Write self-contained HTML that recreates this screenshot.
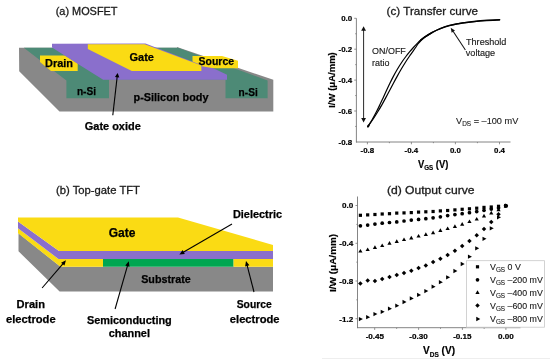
<!DOCTYPE html>
<html><head><meta charset="utf-8"><style>
html,body{margin:0;padding:0;background:#fff;width:550px;height:361px;overflow:hidden}
svg{display:block}
text{font-family:"Liberation Sans",Arial,sans-serif}
</style></head><body>
<svg width="550" height="361" viewBox="0 0 550 361">
<polygon points="19.00,47.70 177.00,47.70 177.00,47.00 273.30,79.80 273.30,111.40 59.50,111.40 19.20,71.20" fill="#888888"/>
<polygon points="23.80,47.80 178.00,47.80 267.60,80.40 267.60,98.20 225.50,98.20 225.50,79.40 109.00,79.40 109.00,98.20 66.40,98.20 66.40,80.40" fill="#4d8a76"/>
<polygon points="40.00,55.50 65.00,55.50 77.70,63.50 77.70,71.00 51.00,71.00 40.00,62.00" fill="#fadb14"/>
<polygon points="192.50,55.90 222.00,55.90 238.00,60.80 238.00,68.30 200.00,68.30 192.50,63.00" fill="#fadb14"/>
<polygon points="52.00,43.70 145.50,43.50 202.00,65.30 202.00,66.20 213.40,68.30 227.00,74.80 227.00,79.80 103.20,79.80 80.00,65.30 52.00,47.50" fill="#8a6fcc"/>
<polygon points="87.80,44.30 144.70,44.30 201.40,65.60 201.40,71.05 131.80,71.05 87.80,48.90" fill="#fadb14"/>
<line x1="112.80" y1="115.30" x2="117.18" y2="76.68" stroke="#000" stroke-width="1.10"/><polygon points="117.60,73.00 119.31,77.42 114.94,76.93" fill="#000"/>
<polygon points="18.50,233.20 60.50,266.80 273.00,266.80 273.00,291.60 59.60,291.60 18.50,251.30" fill="#888888"/>
<polygon points="18.00,228.20 58.50,259.00 103.00,259.00 103.00,266.80 60.50,266.80 18.00,233.20" fill="#fadb14"/>
<polygon points="103.00,259.00 233.60,259.00 233.60,266.80 103.00,266.80" fill="#00a651"/>
<polygon points="233.60,259.00 273.00,259.00 273.00,266.80 233.60,266.80" fill="#fadb14"/>
<polygon points="18.00,221.60 59.00,251.00 273.00,251.00 273.00,259.00 58.50,259.00 18.00,228.20" fill="#8a6fcc"/>
<polygon points="18.00,217.40 178.00,217.40 273.00,245.00 273.00,251.00 59.00,251.00 18.00,221.60" fill="#fadb14"/>
<line x1="232.00" y1="224.00" x2="183.29" y2="252.24" stroke="#000" stroke-width="1.10"/><polygon points="179.40,254.50 182.62,250.09 184.83,253.90" fill="#000"/>
<line x1="42.10" y1="288.00" x2="63.06" y2="263.71" stroke="#000" stroke-width="1.10"/><polygon points="66.00,260.30 64.40,265.52 61.07,262.65" fill="#000"/>
<line x1="115.10" y1="309.00" x2="127.51" y2="265.58" stroke="#000" stroke-width="1.10"/><polygon points="128.75,261.25 129.49,266.66 125.26,265.45" fill="#000"/>
<line x1="254.00" y1="292.00" x2="247.12" y2="265.36" stroke="#000" stroke-width="1.10"/><polygon points="246.00,261.00 249.38,265.29 245.12,266.39" fill="#000"/>
<line x1="356.40" y1="18.30" x2="356.40" y2="142.50" stroke="#777" stroke-width="0.90"/>
<line x1="356.00" y1="142.00" x2="510.50" y2="142.00" stroke="#777" stroke-width="0.90"/>
<line x1="354.20" y1="18.30" x2="356.40" y2="18.30" stroke="#777" stroke-width="0.80"/>
<line x1="354.20" y1="49.20" x2="356.40" y2="49.20" stroke="#777" stroke-width="0.80"/>
<line x1="354.20" y1="80.10" x2="356.40" y2="80.10" stroke="#777" stroke-width="0.80"/>
<line x1="354.20" y1="111.00" x2="356.40" y2="111.00" stroke="#777" stroke-width="0.80"/>
<line x1="355.20" y1="33.75" x2="356.40" y2="33.75" stroke="#777" stroke-width="0.80"/>
<line x1="355.20" y1="64.65" x2="356.40" y2="64.65" stroke="#777" stroke-width="0.80"/>
<line x1="355.20" y1="95.55" x2="356.40" y2="95.55" stroke="#777" stroke-width="0.80"/>
<line x1="355.20" y1="126.45" x2="356.40" y2="126.45" stroke="#777" stroke-width="0.80"/>
<line x1="367.40" y1="142.00" x2="367.40" y2="144.30" stroke="#777" stroke-width="0.80"/>
<line x1="411.40" y1="142.00" x2="411.40" y2="144.30" stroke="#777" stroke-width="0.80"/>
<line x1="455.40" y1="142.00" x2="455.40" y2="144.30" stroke="#777" stroke-width="0.80"/>
<line x1="499.50" y1="142.00" x2="499.50" y2="144.30" stroke="#777" stroke-width="0.80"/>
<line x1="389.40" y1="142.00" x2="389.40" y2="143.20" stroke="#777" stroke-width="0.80"/>
<line x1="433.40" y1="142.00" x2="433.40" y2="143.20" stroke="#777" stroke-width="0.80"/>
<line x1="477.45" y1="142.00" x2="477.45" y2="143.20" stroke="#777" stroke-width="0.80"/>
<line x1="363.60" y1="30.00" x2="363.60" y2="118.50" stroke="#111" stroke-width="0.90"/>
<polygon points="363.60,26.20 361.20,30.80 366.00,30.80" fill="#111"/>
<polygon points="363.60,122.50 361.20,117.90 366.00,117.90" fill="#111"/>
<path d="M420.31,40.50 C421.02,39.93 422.60,38.45 424.60,37.10 C426.60,35.75 429.58,33.85 432.30,32.40 C435.02,30.95 438.03,29.55 440.90,28.40 C443.77,27.25 446.62,26.28 449.50,25.50 C452.38,24.72 455.32,24.22 458.20,23.70 C461.08,23.18 462.48,22.92 466.80,22.40 C471.12,21.88 478.63,21.03 484.10,20.60 C489.57,20.17 497.02,19.93 499.60,19.80" fill="none" stroke="#000" stroke-width="1.5" stroke-linecap="round"/>
<path d="M367.85,126.60 C368.63,125.33 371.05,121.55 372.52,119.00 C373.99,116.45 375.44,113.70 376.68,111.30 C377.92,108.90 378.90,106.83 379.97,104.60 C381.04,102.37 381.97,100.33 383.09,97.90 C384.21,95.47 385.55,92.48 386.71,90.00 C387.87,87.52 388.97,85.15 390.02,83.00 C391.06,80.85 391.83,79.27 392.98,77.10 C394.13,74.93 395.41,72.52 396.90,70.00 C398.39,67.48 400.37,64.33 401.93,62.00 C403.49,59.67 404.99,57.68 406.26,56.00 C407.53,54.32 408.28,53.40 409.55,51.90 C410.82,50.40 412.66,48.32 413.86,47.00 C415.06,45.68 415.66,45.08 416.73,44.00 C417.81,42.92 419.00,41.65 420.31,40.50 C421.62,39.35 422.60,38.45 424.60,37.10 C426.60,35.75 429.58,33.85 432.30,32.40 C435.02,30.95 438.03,29.55 440.90,28.40 C443.77,27.25 446.62,26.28 449.50,25.50 C452.38,24.72 455.32,24.22 458.20,23.70 C461.08,23.18 462.48,22.92 466.80,22.40 C471.12,21.88 478.63,21.03 484.10,20.60 C489.57,20.17 497.02,19.93 499.60,19.80" fill="none" stroke="#000" stroke-width="1.2" stroke-linecap="round"/>
<path d="M367.85,126.60 C368.74,125.33 371.48,121.55 373.18,119.00 C374.88,116.45 376.61,113.70 378.08,111.30 C379.55,108.90 380.72,106.83 381.99,104.60 C383.26,102.37 384.37,100.33 385.68,97.90 C386.99,95.47 388.56,92.48 389.87,90.00 C391.18,87.52 392.42,85.15 393.56,83.00 C394.70,80.85 395.54,79.27 396.73,77.10 C397.93,74.93 399.25,72.52 400.73,70.00 C402.21,67.48 404.13,64.33 405.61,62.00 C407.09,59.67 408.46,57.68 409.62,56.00 C410.78,54.32 411.51,53.40 412.57,51.90 C413.63,50.40 415.11,48.32 416.00,47.00 C416.89,45.68 417.07,45.08 417.90,44.00 C418.73,42.92 419.85,41.62 421.00,40.50 C422.15,39.38 422.97,38.58 424.80,37.30 C426.63,36.02 430.80,33.55 432.00,32.80" fill="none" stroke="#000" stroke-width="1.2" stroke-linecap="round"/>
<ellipse cx="368.3" cy="126.0" rx="1.1" ry="1.6" transform="rotate(30 368.3 126)" fill="#000"/>
<line x1="465.40" y1="50.00" x2="453.07" y2="31.29" stroke="#111" stroke-width="1.05"/><polygon points="450.70,27.70 455.01,30.61 451.67,32.81" fill="#111"/>
<line x1="357.50" y1="196.50" x2="357.50" y2="328.10" stroke="#777" stroke-width="0.90"/>
<line x1="357.00" y1="327.70" x2="520.50" y2="327.70" stroke="#777" stroke-width="0.90"/>
<line x1="355.50" y1="205.50" x2="357.50" y2="205.50" stroke="#777" stroke-width="0.80"/>
<line x1="355.50" y1="243.30" x2="357.50" y2="243.30" stroke="#777" stroke-width="0.80"/>
<line x1="355.50" y1="281.00" x2="357.50" y2="281.00" stroke="#777" stroke-width="0.80"/>
<line x1="355.50" y1="318.70" x2="357.50" y2="318.70" stroke="#777" stroke-width="0.80"/>
<line x1="356.30" y1="224.40" x2="357.50" y2="224.40" stroke="#777" stroke-width="0.80"/>
<line x1="356.30" y1="262.15" x2="357.50" y2="262.15" stroke="#777" stroke-width="0.80"/>
<line x1="356.30" y1="299.85" x2="357.50" y2="299.85" stroke="#777" stroke-width="0.80"/>
<line x1="374.70" y1="327.70" x2="374.70" y2="329.90" stroke="#777" stroke-width="0.80"/>
<line x1="418.60" y1="327.70" x2="418.60" y2="329.90" stroke="#777" stroke-width="0.80"/>
<line x1="462.40" y1="327.70" x2="462.40" y2="329.90" stroke="#777" stroke-width="0.80"/>
<line x1="505.90" y1="327.70" x2="505.90" y2="329.90" stroke="#777" stroke-width="0.80"/>
<line x1="396.65" y1="327.70" x2="396.65" y2="328.90" stroke="#777" stroke-width="0.80"/>
<line x1="440.50" y1="327.70" x2="440.50" y2="328.90" stroke="#777" stroke-width="0.80"/>
<line x1="484.15" y1="327.70" x2="484.15" y2="328.90" stroke="#777" stroke-width="0.80"/>
<rect x="466.5" y="260.7" width="78" height="66.5" fill="#fff" stroke="#c8c8c8" stroke-width="0.8"/>
<g fill="#000"><polygon points="362.88,319.10 358.88,316.95 358.88,321.25"/><polygon points="360.40,281.35 362.65,283.60 360.40,285.85 358.15,283.60"/><polygon points="360.40,248.91 358.30,252.61 362.50,252.61"/><circle cx="360.40" cy="225.80" r="1.85"/><rect x="358.80" y="213.70" width="3.20" height="3.20"/><polygon points="370.15,317.20 366.15,315.05 366.15,319.35"/><polygon points="367.67,278.15 369.92,280.40 367.67,282.65 365.42,280.40"/><polygon points="367.67,247.41 365.57,251.11 369.77,251.11"/><circle cx="367.67" cy="225.10" r="1.85"/><rect x="366.07" y="213.30" width="3.20" height="3.20"/><polygon points="377.42,314.10 373.42,311.95 373.42,316.25"/><polygon points="374.94,278.75 377.19,281.00 374.94,283.25 372.69,281.00"/><polygon points="374.94,245.21 372.84,248.91 377.04,248.91"/><circle cx="374.94" cy="224.10" r="1.85"/><rect x="373.34" y="212.90" width="3.20" height="3.20"/><polygon points="384.69,311.80 380.69,309.65 380.69,313.95"/><polygon points="382.21,276.75 384.46,279.00 382.21,281.25 379.96,279.00"/><polygon points="382.21,243.41 380.11,247.11 384.31,247.11"/><circle cx="382.21" cy="223.20" r="1.85"/><rect x="380.61" y="212.40" width="3.20" height="3.20"/><polygon points="391.96,308.70 387.96,306.55 387.96,310.85"/><polygon points="389.48,274.85 391.73,277.10 389.48,279.35 387.23,277.10"/><polygon points="389.48,241.01 387.38,244.71 391.58,244.71"/><circle cx="389.48" cy="222.50" r="1.85"/><rect x="387.88" y="212.10" width="3.20" height="3.20"/><polygon points="399.23,305.70 395.23,303.55 395.23,307.85"/><polygon points="396.75,272.85 399.00,275.10 396.75,277.35 394.50,275.10"/><polygon points="396.75,239.31 394.65,243.01 398.85,243.01"/><circle cx="396.75" cy="221.90" r="1.85"/><rect x="395.15" y="211.50" width="3.20" height="3.20"/><polygon points="406.50,302.00 402.50,299.85 402.50,304.15"/><polygon points="404.02,270.75 406.27,273.00 404.02,275.25 401.77,273.00"/><polygon points="404.02,237.41 401.92,241.11 406.12,241.11"/><circle cx="404.02" cy="221.00" r="1.85"/><rect x="402.42" y="211.30" width="3.20" height="3.20"/><polygon points="413.77,298.40 409.77,296.25 409.77,300.55"/><polygon points="411.29,268.45 413.54,270.70 411.29,272.95 409.04,270.70"/><polygon points="411.29,235.81 409.19,239.51 413.39,239.51"/><circle cx="411.29" cy="220.10" r="1.85"/><rect x="409.69" y="211.00" width="3.20" height="3.20"/><polygon points="421.04,294.90 417.04,292.75 417.04,297.05"/><polygon points="418.56,265.85 420.81,268.10 418.56,270.35 416.31,268.10"/><polygon points="418.56,233.91 416.46,237.61 420.66,237.61"/><circle cx="418.56" cy="219.40" r="1.85"/><rect x="416.96" y="210.50" width="3.20" height="3.20"/><polygon points="428.31,291.10 424.31,288.95 424.31,293.25"/><polygon points="425.83,263.25 428.08,265.50 425.83,267.75 423.58,265.50"/><polygon points="425.83,232.31 423.73,236.01 427.93,236.01"/><circle cx="425.83" cy="218.70" r="1.85"/><rect x="424.23" y="210.20" width="3.20" height="3.20"/><polygon points="435.58,286.70 431.58,284.55 431.58,288.85"/><polygon points="433.10,259.85 435.35,262.10 433.10,264.35 430.85,262.10"/><polygon points="433.10,230.61 431.00,234.31 435.20,234.31"/><circle cx="433.10" cy="217.80" r="1.85"/><rect x="431.50" y="209.90" width="3.20" height="3.20"/><polygon points="442.85,282.20 438.85,280.05 438.85,284.35"/><polygon points="440.37,256.55 442.62,258.80 440.37,261.05 438.12,258.80"/><polygon points="440.37,228.31 438.27,232.01 442.47,232.01"/><circle cx="440.37" cy="216.80" r="1.85"/><rect x="438.77" y="209.30" width="3.20" height="3.20"/><polygon points="450.12,277.30 446.12,275.15 446.12,279.45"/><polygon points="447.64,252.65 449.89,254.90 447.64,257.15 445.39,254.90"/><polygon points="447.64,226.41 445.54,230.11 449.74,230.11"/><circle cx="447.64" cy="215.60" r="1.85"/><rect x="446.04" y="208.90" width="3.20" height="3.20"/><polygon points="457.39,271.00 453.39,268.85 453.39,273.15"/><polygon points="454.91,248.55 457.16,250.80 454.91,253.05 452.66,250.80"/><polygon points="454.91,224.21 452.81,227.91 457.01,227.91"/><circle cx="454.91" cy="214.60" r="1.85"/><rect x="453.31" y="208.30" width="3.20" height="3.20"/><polygon points="464.66,264.00 460.66,261.85 460.66,266.15"/><polygon points="462.18,243.75 464.43,246.00 462.18,248.25 459.93,246.00"/><polygon points="462.18,222.11 460.08,225.81 464.28,225.81"/><circle cx="462.18" cy="213.70" r="1.85"/><rect x="460.58" y="207.70" width="3.20" height="3.20"/><polygon points="471.93,256.70 467.93,254.55 467.93,258.85"/><polygon points="469.45,238.85 471.70,241.10 469.45,243.35 467.20,241.10"/><polygon points="469.45,219.41 467.35,223.11 471.55,223.11"/><circle cx="469.45" cy="212.70" r="1.85"/><rect x="467.85" y="207.20" width="3.20" height="3.20"/><polygon points="479.20,248.30 475.20,246.15 475.20,250.45"/><polygon points="476.72,233.05 478.97,235.30 476.72,237.55 474.47,235.30"/><polygon points="476.72,216.91 474.62,220.61 478.82,220.61"/><circle cx="476.72" cy="211.60" r="1.85"/><rect x="475.12" y="206.60" width="3.20" height="3.20"/><polygon points="486.47,238.80 482.47,236.65 482.47,240.95"/><polygon points="483.99,226.75 486.24,229.00 483.99,231.25 481.74,229.00"/><polygon points="483.99,213.71 481.89,217.41 486.09,217.41"/><circle cx="483.99" cy="210.30" r="1.85"/><rect x="482.39" y="205.80" width="3.20" height="3.20"/><polygon points="493.74,228.30 489.74,226.15 489.74,230.45"/><polygon points="491.26,219.65 493.51,221.90 491.26,224.15 489.01,221.90"/><polygon points="491.26,210.71 489.16,214.41 493.36,214.41"/><circle cx="491.26" cy="209.10" r="1.85"/><rect x="489.66" y="205.40" width="3.20" height="3.20"/><polygon points="501.01,217.30 497.01,215.15 497.01,219.45"/><polygon points="498.53,212.05 500.78,214.30 498.53,216.55 496.28,214.30"/><polygon points="498.53,207.51 496.43,211.21 500.63,211.21"/><circle cx="498.53" cy="207.90" r="1.85"/><rect x="496.93" y="204.70" width="3.20" height="3.20"/><polygon points="508.28,205.80 504.28,203.65 504.28,207.95"/><polygon points="505.80,203.55 508.05,205.80 505.80,208.05 503.55,205.80"/><polygon points="505.80,203.51 503.70,207.21 507.90,207.21"/><circle cx="505.80" cy="205.80" r="1.85"/><rect x="504.20" y="204.10" width="3.20" height="3.20"/><rect x="475.90" y="265.20" width="3.20" height="3.20"/><circle cx="477.50" cy="279.80" r="1.85"/><polygon points="477.50,290.31 475.40,294.01 479.60,294.01"/><polygon points="477.50,303.35 479.75,305.60 477.50,307.85 475.25,305.60"/><polygon points="480.28,319.00 476.28,316.85 476.28,321.15"/></g>
<line x1="322.00" y1="358.50" x2="550.00" y2="358.50" stroke="#eeeeee" stroke-width="1.00"/>
<text id="ta" x="55.70" y="14.60" font-size="10.90" fill="#1a1a1a" textLength="61.80" lengthAdjust="spacingAndGlyphs" stroke="#1a1a1a" stroke-width="0.30">(a) MOSFET</text>
<text id="drain" x="45.00" y="66.50" font-size="11.20" fill="#000" font-weight="bold" textLength="28.00" lengthAdjust="spacingAndGlyphs" stroke="#000" stroke-width="0.25">Drain</text>
<text id="gate" x="129.50" y="60.60" font-size="11.30" fill="#000" font-weight="bold" textLength="24.50" lengthAdjust="spacingAndGlyphs" stroke="#000" stroke-width="0.25">Gate</text>
<text id="source" x="198.60" y="65.30" font-size="10.80" fill="#000" font-weight="bold" textLength="35.50" lengthAdjust="spacingAndGlyphs" stroke="#000" stroke-width="0.25">Source</text>
<text id="nsi1" x="76.90" y="95.30" font-size="11.20" fill="#000" font-weight="bold" textLength="19.10" lengthAdjust="spacingAndGlyphs" stroke="#000" stroke-width="0.25">n-Si</text>
<text id="psi" x="133.50" y="101.30" font-size="11.40" fill="#000" font-weight="bold" textLength="75.00" lengthAdjust="spacingAndGlyphs" stroke="#000" stroke-width="0.25">p-Silicon body</text>
<text id="nsi2" x="238.60" y="95.60" font-size="11.20" fill="#000" font-weight="bold" textLength="19.10" lengthAdjust="spacingAndGlyphs" stroke="#000" stroke-width="0.25">n-Si</text>
<text id="gox" x="84.80" y="129.90" font-size="10.40" fill="#000" font-weight="bold" textLength="56.00" lengthAdjust="spacingAndGlyphs" stroke="#000" stroke-width="0.25">Gate oxide</text>
<text id="tb" x="56.00" y="194.00" font-size="11.30" fill="#1a1a1a" textLength="84.00" lengthAdjust="spacingAndGlyphs" stroke="#1a1a1a" stroke-width="0.30">(b) Top-gate TFT</text>
<text id="gate2" x="108.70" y="237.10" font-size="12.20" fill="#000" font-weight="bold" textLength="26.70" lengthAdjust="spacingAndGlyphs" stroke="#000" stroke-width="0.25">Gate</text>
<text id="diel" x="232.90" y="217.70" font-size="10.90" fill="#000" font-weight="bold" textLength="49.20" lengthAdjust="spacingAndGlyphs" stroke="#000" stroke-width="0.25">Dielectric</text>
<text id="subs" x="141.20" y="282.60" font-size="11.50" fill="#000" font-weight="bold" textLength="49.60" lengthAdjust="spacingAndGlyphs" stroke="#000" stroke-width="0.25">Substrate</text>
<text id="drain2" x="16.60" y="308.10" font-size="10.80" fill="#000" font-weight="bold" textLength="28.40" lengthAdjust="spacingAndGlyphs" stroke="#000" stroke-width="0.25">Drain</text>
<text id="elec1" x="6.00" y="323.20" font-size="10.80" fill="#000" font-weight="bold" textLength="49.60" lengthAdjust="spacingAndGlyphs" stroke="#000" stroke-width="0.25">electrode</text>
<text id="semi" x="86.90" y="324.00" font-size="11.00" fill="#000" font-weight="bold" textLength="84.90" lengthAdjust="spacingAndGlyphs" stroke="#000" stroke-width="0.25">Semiconducting</text>
<text id="chan" x="108.70" y="337.00" font-size="11.00" fill="#000" font-weight="bold" textLength="41.30" lengthAdjust="spacingAndGlyphs" stroke="#000" stroke-width="0.25">channel</text>
<text id="src2" x="236.70" y="307.90" font-size="10.80" fill="#000" font-weight="bold" textLength="35.00" lengthAdjust="spacingAndGlyphs" stroke="#000" stroke-width="0.25">Source</text>
<text id="elec2" x="229.80" y="322.60" font-size="10.80" fill="#000" font-weight="bold" textLength="49.80" lengthAdjust="spacingAndGlyphs" stroke="#000" stroke-width="0.25">electrode</text>
<text id="tc" x="386.60" y="15.00" font-size="11.60" fill="#1a1a1a" textLength="91.40" lengthAdjust="spacingAndGlyphs" stroke="#1a1a1a" stroke-width="0.30">(c) Transfer curve</text>
<text id="cy0" x="352.20" y="21.10" font-size="7.90" fill="#000" font-weight="bold" text-anchor="end" stroke="#000" stroke-width="0.20">0.0</text>
<text id="cy1" x="352.20" y="52.00" font-size="7.90" fill="#000" font-weight="bold" text-anchor="end" stroke="#000" stroke-width="0.20">-0.2</text>
<text id="cy2" x="352.20" y="82.90" font-size="7.90" fill="#000" font-weight="bold" text-anchor="end" stroke="#000" stroke-width="0.20">-0.4</text>
<text id="cy3" x="352.20" y="113.80" font-size="7.90" fill="#000" font-weight="bold" text-anchor="end" stroke="#000" stroke-width="0.20">-0.6</text>
<text id="cy4" x="352.20" y="144.70" font-size="7.90" fill="#000" font-weight="bold" text-anchor="end" stroke="#000" stroke-width="0.20">-0.8</text>
<text id="cx0" x="367.40" y="152.80" font-size="7.90" fill="#000" font-weight="bold" text-anchor="middle" stroke="#000" stroke-width="0.20">-0.8</text>
<text id="cx1" x="411.40" y="152.80" font-size="7.90" fill="#000" font-weight="bold" text-anchor="middle" stroke="#000" stroke-width="0.20">-0.4</text>
<text id="cx2" x="455.40" y="152.80" font-size="7.90" fill="#000" font-weight="bold" text-anchor="middle" stroke="#000" stroke-width="0.20">0.0</text>
<text id="cx3" x="499.50" y="152.80" font-size="7.90" fill="#000" font-weight="bold" text-anchor="middle" stroke="#000" stroke-width="0.20">0.4</text>
<text id="cyt" x="0.00" y="0.00" font-size="9.60" fill="#000" font-weight="bold" textLength="55.60" lengthAdjust="spacingAndGlyphs" transform="translate(335.3,107.8) rotate(-90)" stroke="#000" stroke-width="0.15">I/W (μA/mm)</text>
<text id="cxt" x="418.00" y="167.60" font-size="10.60" fill="#000" font-weight="bold" textLength="30.40" lengthAdjust="spacingAndGlyphs" stroke="#000" stroke-width="0.15">V<tspan font-size="7" dy="2">GS</tspan><tspan dy="-2"> (V)</tspan></text>
<text id="onoff" x="372.10" y="54.40" font-size="9.00" fill="#1a1a1a" textLength="33.70" lengthAdjust="spacingAndGlyphs" stroke="#1a1a1a" stroke-width="0.15">ON/OFF</text>
<text id="ratio" x="372.10" y="65.60" font-size="9.00" fill="#1a1a1a" textLength="17.40" lengthAdjust="spacingAndGlyphs" stroke="#1a1a1a" stroke-width="0.15">ratio</text>
<text id="thr" x="466.00" y="44.90" font-size="9.30" fill="#1a1a1a" textLength="40.40" lengthAdjust="spacingAndGlyphs" stroke="#1a1a1a" stroke-width="0.15">Threshold</text>
<text id="volt" x="465.80" y="55.50" font-size="9.30" fill="#1a1a1a" textLength="29.40" lengthAdjust="spacingAndGlyphs" stroke="#1a1a1a" stroke-width="0.15">voltage</text>
<text id="vds" x="456.00" y="124.30" font-size="9.70" fill="#1a1a1a" textLength="62.30" lengthAdjust="spacingAndGlyphs" stroke="#1a1a1a" stroke-width="0.12">V<tspan font-size="6.8" dy="2">DS</tspan><tspan dy="-2"> = –100 mV</tspan></text>
<text id="td" x="386.90" y="194.00" font-size="11.30" fill="#1a1a1a" textLength="87.60" lengthAdjust="spacingAndGlyphs" stroke="#1a1a1a" stroke-width="0.30">(d) Output curve</text>
<text id="dy0" x="353.30" y="208.35" font-size="8.10" fill="#000" font-weight="bold" text-anchor="end" stroke="#000" stroke-width="0.20">0.0</text>
<text id="dy1" x="353.30" y="246.15" font-size="8.10" fill="#000" font-weight="bold" text-anchor="end" stroke="#000" stroke-width="0.20">-0.4</text>
<text id="dy2" x="353.30" y="283.85" font-size="8.10" fill="#000" font-weight="bold" text-anchor="end" stroke="#000" stroke-width="0.20">-0.8</text>
<text id="dy3" x="353.30" y="321.55" font-size="8.10" fill="#000" font-weight="bold" text-anchor="end" stroke="#000" stroke-width="0.20">-1.2</text>
<text id="dx0" x="374.90" y="338.90" font-size="8.10" fill="#000" font-weight="bold" text-anchor="middle" stroke="#000" stroke-width="0.20">-0.45</text>
<text id="dx1" x="418.60" y="338.90" font-size="8.10" fill="#000" font-weight="bold" text-anchor="middle" stroke="#000" stroke-width="0.20">-0.30</text>
<text id="dx2" x="462.40" y="338.90" font-size="8.10" fill="#000" font-weight="bold" text-anchor="middle" stroke="#000" stroke-width="0.20">-0.15</text>
<text id="dx3" x="505.90" y="338.90" font-size="8.10" fill="#000" font-weight="bold" text-anchor="middle" stroke="#000" stroke-width="0.20">0.00</text>
<text id="dyt" x="0.00" y="0.00" font-size="9.60" fill="#000" font-weight="bold" textLength="58.20" lengthAdjust="spacingAndGlyphs" transform="translate(336.2,292) rotate(-90)" stroke="#000" stroke-width="0.15">I/W (μA/mm)</text>
<text id="dxt" x="423.00" y="354.30" font-size="10.20" fill="#000" font-weight="bold" textLength="32.00" lengthAdjust="spacingAndGlyphs" stroke="#000" stroke-width="0.15">V<tspan font-size="6.6" dy="2.5">DS</tspan><tspan dy="-2.5"> (V)</tspan></text>
<text id="lg0" x="490.00" y="269.70" font-size="8.80" fill="#1a1a1a" stroke="#1a1a1a" stroke-width="0.12">V<tspan font-size="6.4" dy="2.4">GS</tspan><tspan dy="-2.4"> 0 V</tspan></text>
<text id="lg1" x="490.00" y="282.65" font-size="8.80" fill="#1a1a1a" stroke="#1a1a1a" stroke-width="0.12">V<tspan font-size="6.4" dy="2.4">GS</tspan><tspan dy="-2.4"> –200 mV</tspan></text>
<text id="lg2" x="490.00" y="295.60" font-size="8.80" fill="#1a1a1a" stroke="#1a1a1a" stroke-width="0.12">V<tspan font-size="6.4" dy="2.4">GS</tspan><tspan dy="-2.4"> –400 mV</tspan></text>
<text id="lg3" x="490.00" y="308.55" font-size="8.80" fill="#1a1a1a" stroke="#1a1a1a" stroke-width="0.12">V<tspan font-size="6.4" dy="2.4">GS</tspan><tspan dy="-2.4"> –600 mV</tspan></text>
<text id="lg4" x="490.00" y="321.50" font-size="8.80" fill="#1a1a1a" stroke="#1a1a1a" stroke-width="0.12">V<tspan font-size="6.4" dy="2.4">GS</tspan><tspan dy="-2.4"> –800 mV</tspan></text>
</svg>
</body></html>
